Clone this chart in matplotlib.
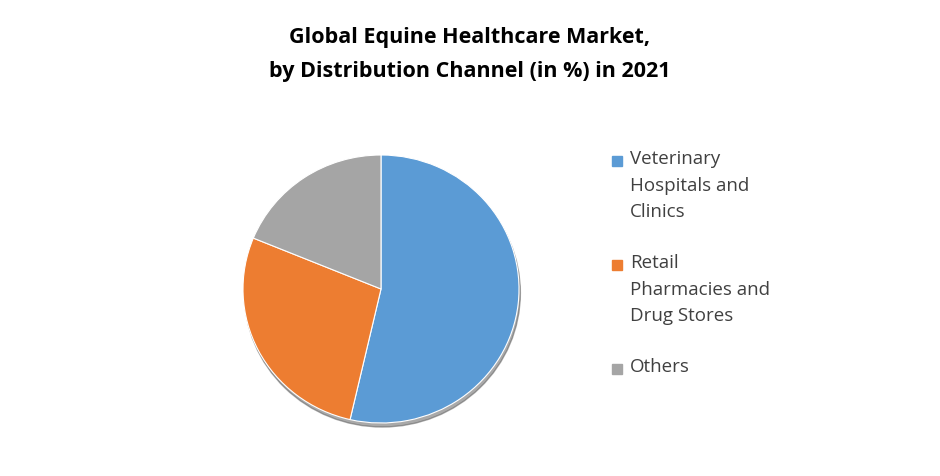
import matplotlib.pyplot as plt
from matplotlib.patches import Ellipse, Rectangle

channels = ["Veterinary\nHospitals and\nClinics", "Retail\nPharmacies and\nDrug Stores", "Others"]
shares = [53.6, 27.6, 18.8]
colors = ["#5b9bd5", "#ed7d31", "#a5a5a5"]

plt.rcParams['font.family'] = ['Open Sans', 'DejaVu Sans']

W, H = 940, 477
fig = plt.figure(figsize=(9.4, 4.77), dpi=100)

# pie axes placed in pixel terms, slightly squashed vertically
ax = fig.add_axes([243 / W, (H - 424) / H, 276 / W, 268 / H])

# soft shadow below the pie
ax.add_patch(Ellipse((0.01, -0.03), 2.0, 2.0, color="#555555", alpha=0.5, zorder=0, clip_on=False))
wedges, _ = ax.pie(shares, colors=colors, startangle=90, counterclock=False,
                   radius=1, wedgeprops=dict(linewidth=0.8, edgecolor="white"))
for w in wedges:
    w.set_zorder(2)
    w.set_clip_on(False)
ax.set_aspect('auto')
ax.set_xlim(-1, 1)
ax.set_ylim(-1, 1)
ax.axis('off')

fig.text(0.5, 1 - 37 / H, "Global Equine Healthcare Market,", ha='center', va='center',
         fontsize=15.5, fontweight='bold')
fig.text(0.5, 1 - 71 / H, "by Distribution Channel (in %) in 2021", ha='center', va='center',
         fontsize=15.5, fontweight='bold')

# legend
tops = [162, 266, 370]
for label, c, y in zip(channels, colors, tops):
    fig.patches.append(Rectangle((612 / W, 1 - (y + 5) / H), 10 / W, 10 / H,
                                 transform=fig.transFigure, color=c, figure=fig))
    fig.text(630 / W, 1 - (y - 12) / H, label, ha='left', va='top', fontsize=13.5,
             linespacing=1.62, color="#404040")

fig.savefig("out.png", dpi=100)
